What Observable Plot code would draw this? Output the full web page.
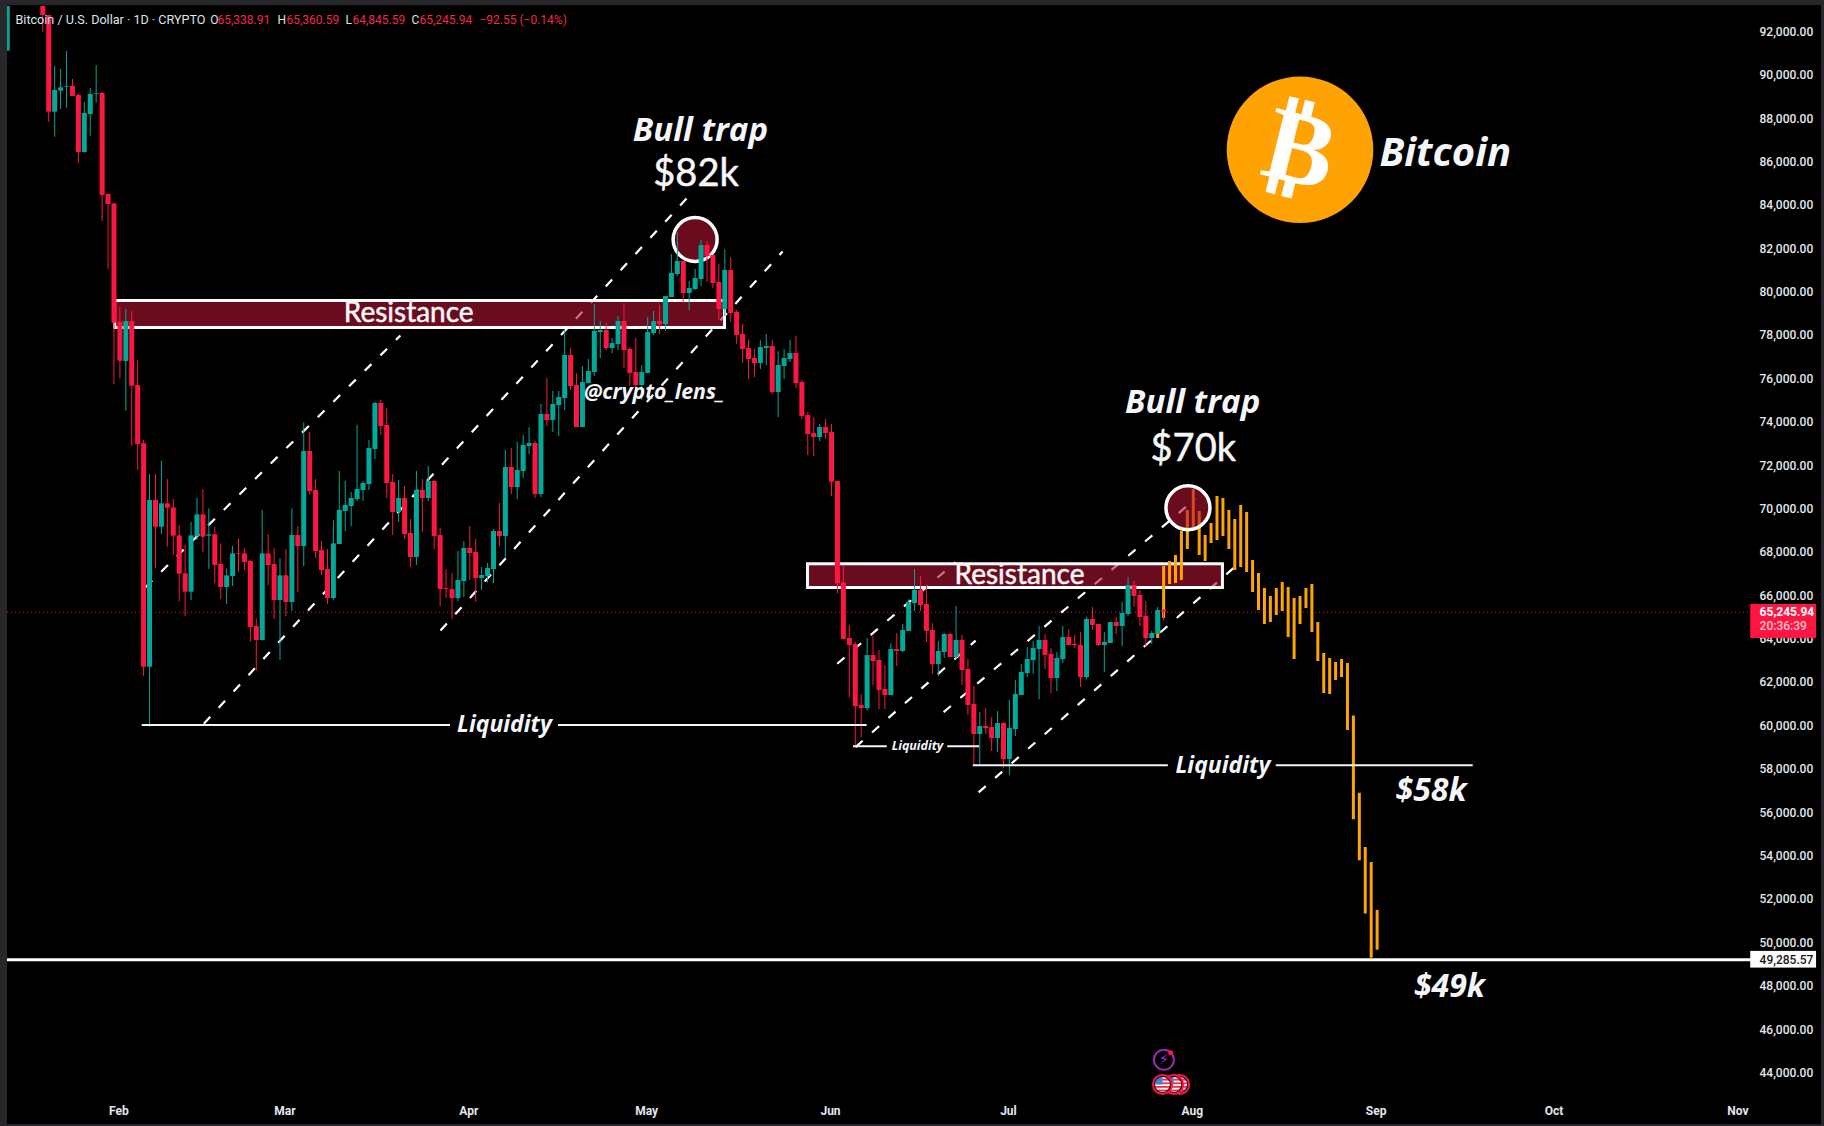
<!DOCTYPE html>
<html><head><meta charset="utf-8">
<script src="https://cdn.jsdelivr.net/npm/d3@7"></script>
<script src="https://cdn.jsdelivr.net/npm/@observablehq/plot@0.6"></script>
<style>
html,body{margin:0;padding:0;background:#000;overflow:hidden}
#wrap{position:relative;width:1824px;height:1126px}
#wrap svg{display:block}
#edge{position:absolute;left:0;top:0;width:1824px;height:1126px;box-sizing:border-box;border-top:5px solid #26262b;border-left:7px solid #26262b;border-bottom:2px solid #26262b;border-right:3px solid #26262b;pointer-events:none}
</style></head><body><div id="wrap"></div>
<script>
// Daily candles, first one on 19 Jan. r = falling, g = rising.
const firstDay = Date.UTC(2026, 0, 19);
const rising = "rrgggrrggg"+"rrrrgrrrgr"+"grrrrggrgr"+"rggrrrrgrr"+"grgrgrrrrg"+"gggggggrrr"+"grrgrgrrrr"+"ggrrgggrgr"+"gggrgrgggr"+"rggggrggrr"+"rgggrgggrg"+"ggrrrgrrrr"+"rggrgggrrr"+"rgrrrrrrrg"+"rrrgrgggrr"+"rggrgrrrgr"+"rgrggggggr"+"rggrrrgrrg"+"grggrrrggr";
const bodyTop = [93400,92756,89298,89421,89482,89482,89068,88238,89114,89160,
89160,84503,84072,78616,78647,78647,75696,73009,70396,70396,
70242,70242,70058,68767,67015,68767,69735,69735,68813,68813,
67445,66922,67937,67952,67937,67583,64586,67937,67937,67445,
66922,66922,68782,68782,72655,72655,70857,68090,67214,68398,
69935,70166,70488,70903,71180,72794,74869,74869,73854,71226,
70488,70488,68874,70857,70857,71272,71272,68782,66338,66292,
66707,68183,68183,67998,66938,67261,68967,68967,71918,71918,
71779,72932,73024,73024,74361,74361,74823,75145,77080,77080,
75697,75835,76342,78187,78233,78233,77633,78648,78648,77357,
76296,76296,78140,78648,78648,79800,80861,81414,81414,80169,
80630,82152,82152,81691,80446,80999,80999,79063,78048,77403,
76942,77449,77495,77495,76619,76942,77172,77172,75835,74313,
73483,73760,73760,73529,71273,66600,64033,63757,60944,63249,
63249,63019,61682,63526,63526,64402,65693,66247,66247,65601,
64402,63434,64218,64218,63941,63941,62604,60990,59976,59976,
59930,60114,60114,59883,61451,62465,63065,63572,63941,63941,
63295,63111,64079,64079,63757,63710,64909,64909,64679,63849,
64771,64771,65186,66477,66477,66016,65048,64264,65324,65338.91];
const bodyBottom = [92756,88299,88299,89267,89452,89021,86439,86439,88191,89129,
84457,84042,78570,76818,76803,75665,72978,62711,62711,69166,
69166,70043,68751,67000,66169,66169,68736,68705,68751,67399,
66385,66385,66892,67921,67537,64540,63941,63941,67399,65785,
65785,65693,65693,68275,68275,70811,68044,67168,65877,65877,
68367,69889,70119,70442,70857,71134,72748,73808,71180,69843,
69843,68828,67768,67768,70488,70488,68736,66292,66292,65877,
65877,66661,67952,66799,66799,66892,67214,68736,68736,70995,
70995,71733,72886,70673,70673,74085,74085,74776,75097,75651,
73760,73760,75789,76296,78140,77403,77403,77587,77310,76250,
75697,75697,76250,78094,78509,78509,79754,80815,79939,79939,
80123,80584,81645,80400,79201,79201,79017,78002,77357,76896,
76711,76711,77403,75374,75374,76573,76896,75789,74267,73437,
73299,73299,73483,71240,66554,63987,63710,60898,60805,60805,
62973,61635,61405,61405,63434,63434,64356,65647,65555,64356,
62834,62834,63388,63157,63157,62558,60944,59607,59607,59883,
59422,59422,58454,58454,59837,61405,62419,63019,63526,63249,
62189,62189,63065,63710,63710,62235,62235,64633,63710,63710,
63803,64587,64587,65140,65970,65002,64033,64033,64218,65245.94];
const wickHigh = [93600,92756,90405,90266,91096,89805,89144,88745,89390,90451,
89206,84533,84072,79308,79200,79108,76848,73163,71595,71595,
72194,71364,70442,69243,68321,69382,70488,70903,70012,69151,
68398,67245,68275,68628,68167,67629,64940,69935,68828,68167,
67706,68137,70012,69197,73977,73531,71364,68505,68137,69474,
71733,71272,70765,73854,71272,73163,74915,75007,74638,71595,
71318,71042,69520,71733,71364,71964,71318,69105,67214,67030,
68044,68505,69197,68598,67307,67491,69059,70258,72702,72794,
73070,73393,73762,73116,74823,76021,75422,75422,78279,77403,
76235,76573,76896,79432,78648,78555,77864,78878,79478,77449,
77864,76619,78832,79109,79385,79800,81737,82752,81414,80492,
81045,82383,82336,81691,81276,81968,81599,79155,78509,77772,
77357,77772,78048,77772,77264,77357,77772,77956,75927,74452,
74221,73898,74129,73898,71273,67399,64633,63849,61451,64033,
64125,63480,62788,63787,64264,64679,65816,67215,66892,66477,
64725,63895,64264,64264,65509,64172,63065,61820,60621,60806,
60391,60667,60160,61174,62097,62834,63618,63895,64587,64218,
63572,63388,64587,64448,64172,64310,65001,65463,64679,64310,
64771,65001,65693,66846,66661,66247,65739,64356,65463,65360.59];
const wickLow = [91988,87838,87146,88422,88483,89021,85947,86409,87192,88714,
83258,81045,75742,76000,74515,72901,71779,62281,59945,67245,
68828,68244,67860,65708,65047,65785,68552,67998,67214,66554,
65831,65600,66431,67092,67168,63864,62527,63910,66477,64909,
63018,65047,65278,66169,67353,70627,67722,66938,65600,65785,
68367,68967,69197,70350,70350,70857,72287,73393,70488,68782,
69382,68598,67307,67399,68920,70350,68137,65508,65877,64909,
65739,65923,66707,65693,66246,66584,66569,68275,67706,70673,
70442,71410,72517,70488,70534,73808,73531,73347,74544,75466,
73760,73760,75789,76112,76942,77310,77172,77310,76481,75651,
74928,75005,76250,78002,78048,78202,79754,80723,79478,79155,
80077,80262,80446,80154,78694,78878,78602,77587,76711,75973,
76066,76435,76619,75282,74221,75973,76757,75543,74129,72469,
72423,73114,73207,70579,66093,63987,61297,59053,59468,60683,
61866,60760,60760,61405,62742,63388,64356,65278,65278,63849,
62373,62281,63111,63157,63065,61866,60483,58223,58223,59607,
58823,58777,58039,57716,59515,61405,62235,62373,61221,62604,
61497,61589,62880,63710,63572,61774,62143,64402,63664,62466,
63803,64218,63664,65048,65463,64587,63664,63757,64218,64845.59];
// A candle cut by the left edge of the pane
const edgeCandleDay = -6, edgeCandleLow = 91110, edgeCandleHigh = 93500;

// Orange projection bars, first one on day 188
const ghostFirstDay = 188;
const ghostHigh = [65326,67354,67585,67862,68968,69937,70905,69890,68784,69337,70582,70490,69937,69522,70167,69844,67631,67032,66340,65971,66340,66617,66386,65879,65971,66340,66525,64772,63343,63112,62928,63066,62882,60461,56899,54401,53707,51502];
const ghostLow = [64035,64957,66524,66571,66709,68138,69153,67862,67585,68415,68553,68738,68138,67170,67308,67078,66156,65326,64680,64772,65095,65280,64081,63066,64680,65418,64311,62974,61499,61453,62098,62236,59792,55680,53784,51332,49297,49667];

// Annotations, in day number and price
const channelFromDay = [17.32,27.15,67.06,133.96,137.05,151.9,157.8];
const channelFromPrice = [66400,60100,64400,62870,59030,60640,56940];
const channelToDay = [60.3,108.55,124.75,153.9,157.3,194.4,201.1];
const channelToPrice = [78000,84320,81880,67550,63940,70480,67360];
const zoneFromDay = [12.2,129.04], zoneToDay = [115.04,199.0];
const zoneHigh = [79594,67456], zoneLow = [78350,66363];
const zoneLabelDay = [61.7,164.7], zoneLabelPrice = [79018,66963];
const trapDay = [110,193.1], trapPrice = [82430,70060];
const trapTitleDay = [110.9,193.9], trapTitlePrice = [87455,74915];
const trapValueDay = [110.15,194], trapValuePrice = [85472,72795], trapValue = ["$82k","$70k"];
const liquidityFrom = [16.76,86.96,136.7,152.6,156.9,208.0];
const liquidityTo = [68.75,139.0,142.4,157.96,189.8,241.2];
const liquidityPrice = [60050,60050,59070,59070,58190,58190];
const liquidityLabelDay = [77.85,147.5,199.0], liquidityLabelPrice = [60050,59070,58190], liquidityLabelSize = [23,12.5,23];
const targetPrice = 49225, targetLabel = "49,285.57";
const lastClose = 65245.94, lastLabel = "65,245.94", countdown = "20:36:39";
const priceTicks = d3.range(44000, 92001, 2000);
const monthTicks = ["2026-02-01","2026-03-01","2026-04-01","2026-05-01","2026-06-01","2026-07-01","2026-08-01","2026-09-01","2026-10-01","2026-11-01"].map(d => new Date(d));
const headerParts = [
 ["Bitcoin / U.S. Dollar · 1D · CRYPTO",15,"#dfe3ea",12.6],["O",209.7,"#dfe3ea",12],["65,338.91",217,"#f7254f",12],
 ["H",277,"#dfe3ea",12],["65,360.59",286,"#f7254f",12],["L",345,"#dfe3ea",12],["64,845.59",352,"#f7254f",12],
 ["C",411,"#dfe3ea",12],["65,245.94",419,"#f7254f",12],["−92.55 (−0.14%)",479,"#f7254f",12]];

const day = n => new Date(firstDay + n * 864e5);
const candles = bodyTop.map((t,i) => ({date:day(i),top:t,bottom:bodyBottom[i],high:wickHigh[i],low:wickLow[i],up:rising[i]==="g"}));
const ghosts = ghostHigh.map((h,i) => ({date:day(ghostFirstDay+i),high:h,low:ghostLow[i]}));
const channels = channelFromDay.map((d,i) => ({x1:day(d),y1:channelFromPrice[i],x2:day(channelToDay[i]),y2:channelToPrice[i]}));
const zones = zoneFromDay.map((d,i) => ({x1:day(d),x2:day(zoneToDay[i]),y1:zoneLow[i],y2:zoneHigh[i]}));
const liquidity = liquidityFrom.map((d,i) => ({x1:day(d),x2:day(liquidityTo[i]),y:liquidityPrice[i]}));
const at = (ds,ps,extra=[]) => ds.map((d,i) => ({x:day(d),y:ps[i],v:extra[i]}));

const RED="#ff1541", GREEN="#02a898", ORANGE="#ffa500", BI='"Open Sans"', REG='Lato';
const bold = {fontFamily:BI,fontWeight:700,fontStyle:"italic",fill:"#f4f6fa"};
const heavy = {fontFamily:REG,fill:"#f7f7f7",stroke:"#f7f7f7",strokeWidth:0.5};
const axisEnd = day(288.0), boxEnd = day(299.1), boxText = day(289.5);

const flagDefs = () => {
  const d = d3.create("svg:defs");
  const p = d.append("pattern").attr("id","usFlag").attr("width",1).attr("height",1).attr("patternContentUnits","objectBoundingBox");
  p.append("rect").attr("width",1).attr("height",1).attr("fill","#fff");
  [0.12,0.36,0.6,0.84].forEach(y => p.append("rect").attr("y",y).attr("width",1).attr("height",0.12).attr("fill","#ee2b45"));
  p.append("rect").attr("width",0.5).attr("height",0.5).attr("fill","#3f7fd6");
  return d.node();
};

const chart = Plot.plot({
  width:1824,height:1126,marginLeft:7,marginRight:72,marginTop:6,marginBottom:30,
  style:{background:"#000",fontFamily:"Roboto",overflow:"visible"},
  x:{type:"utc",domain:[day(-5.953),day(288.3)]},
  y:{domain:[42920,93171]},
  marks:[
    flagDefs,
    Plot.axisY(priceTicks,{anchor:"right",label:null,tickSize:0,tickPadding:7,tickFormat:d3.format(",.2f"),fill:"#e4e7ee",fontSize:12,fontWeight:500}),
    Plot.axisX(monthTicks,{anchor:"bottom",label:null,tickSize:0,tickPadding:10,tickFormat:d3.utcFormat("%b"),fill:"#e4e7ee",fontSize:12,fontWeight:700,dx:-1}),
    Plot.ruleY([lastClose],{stroke:RED,strokeWidth:1,strokeDasharray:"1,3",clip:true}),
    Plot.link(channels,{x1:"x1",y1:"y1",x2:"x2",y2:"y2",stroke:"#fff",strokeWidth:2.2,strokeDasharray:"9.5,12.5",clip:true,curve:"linear"}),
    Plot.rect(zones,{x1:"x1",x2:"x2",y1:"y1",y2:"y2",fill:"#b21232",fillOpacity:0.6,stroke:"#fff",strokeWidth:3}),
    Plot.ruleX(ghosts,{x:"date",y1:"low",y2:"high",stroke:ORANGE,strokeWidth:3,clip:true}),
    Plot.dot(at(trapDay,trapPrice),{x:"x",y:"y",r:22,fill:"#b21232",fillOpacity:0.6,stroke:"#fff",strokeWidth:3.5}),
    Plot.ruleX([day(edgeCandleDay)],{y1:edgeCandleLow,y2:edgeCandleHigh,stroke:GREEN,strokeWidth:5,clip:true}),
    Plot.ruleX(candles.filter(d=>d.up),{x:"date",y1:"low",y2:"high",stroke:GREEN,strokeWidth:1,clip:true}),
    Plot.ruleX(candles.filter(d=>!d.up),{x:"date",y1:"low",y2:"high",stroke:RED,strokeWidth:1,clip:true}),
    Plot.ruleX(candles.filter(d=>d.up),{x:"date",y1:"bottom",y2:"top",stroke:GREEN,strokeWidth:5,clip:true}),
    Plot.ruleX(candles.filter(d=>!d.up),{x:"date",y1:"bottom",y2:"top",stroke:RED,strokeWidth:5,clip:true}),
    Plot.ruleY(liquidity,{x1:"x1",x2:"x2",y:"y",stroke:"#f2f4f8",strokeWidth:2}),
    Plot.ruleY([targetPrice],{stroke:"#fff",strokeWidth:3}),
    // axis price boxes
    Plot.rect([0],{x1:axisEnd,x2:boxEnd,y1:targetPrice-385,y2:targetPrice+385,fill:"#fff"}),
    Plot.text([targetLabel],{x:boxText,y:targetPrice,text:d=>d,textAnchor:"start",fill:"#131722",fontSize:12,fontWeight:500}),
    Plot.rect([0],{x1:axisEnd,x2:boxEnd,y1:64035,y2:65603,fill:RED}),
    Plot.text([lastLabel],{x:boxText,y:lastClose,text:d=>d,textAnchor:"start",fill:"#fff",fontSize:12,fontWeight:700}),
    Plot.text([countdown],{x:boxText,y:64589,text:d=>d,textAnchor:"start",fill:"#ffc4d0",fontSize:12,fontWeight:500}),
    // zones, traps
    Plot.text(at(zoneLabelDay,zoneLabelPrice),{x:"x",y:"y",text:()=>"Resistance",fontSize:28,...heavy}),
    Plot.text(at(trapTitleDay,trapTitlePrice),{x:"x",y:"y",text:()=>"Bull trap",fontSize:33,...bold}),
    Plot.text(at(trapValueDay,trapValuePrice,trapValue),{x:"x",y:"y",text:"v",fontSize:38,...heavy}),
    ...liquidityLabelDay.map((d,i)=>Plot.text([{x:day(d),y:liquidityLabelPrice[i]}],{x:"x",y:"y",text:()=>"Liquidity",fontSize:liquidityLabelSize[i],...bold})),
    Plot.text([{x:day(103.1),y:75390}],{x:"x",y:"y",text:()=>"@crypto_lens_",fontSize:21.3,...bold}),
    Plot.text([{x:day(234.1),y:57005}],{x:"x",y:"y",text:()=>"$58k",fontSize:32,...bold}),
    Plot.text([{x:day(237.2),y:47993}],{x:"x",y:"y",text:()=>"$49k",fontSize:32,...bold}),
    // logo
    Plot.dot([{x:day(212),y:86565}],{x:"x",y:"y",r:73.3,fill:"#ffa204"}),
    Plot.text([{x:day(212),y:86565}],{x:"x",y:"y",text:()=>"₿",fontFamily:"DejaVu Sans",fontWeight:700,fontSize:104,rotate:14,fill:"#fff"}),
    Plot.text([{x:day(236.5),y:86430}],{x:"x",y:"y",text:()=>"Bitcoin",fontSize:40,...bold}),
    // events
    Plot.dot([{x:day(189.05),y:44613}],{x:"x",y:"y",r:10,fill:"none",stroke:"#9c27b0",strokeWidth:2}),
    Plot.text([{x:day(189.05),y:44613}],{x:"x",y:"y",text:()=>"⚡",fontFamily:"DejaVu Sans",fontSize:14,fill:"#a32bd6"}),
    Plot.dot([{x:day(190.2),y:44936}],{x:"x",y:"y",r:2.5,fill:RED}),
    ...[191.7,190.7,188.8].flatMap(d=>[
      Plot.dot([{x:day(d),y:43475}],{x:"x",y:"y",r:9.5,fill:"#10101a",stroke:RED,strokeWidth:2}),
      Plot.dot([{x:day(d),y:43475}],{x:"x",y:"y",r:7.5,fill:"url(#usFlag)"})
    ]),
    // header
    ...headerParts.map(([t,x,c,s])=>Plot.text([t],{frameAnchor:"top-left",dx:x-7,dy:9,text:d=>d,fill:c,fontSize:s,textAnchor:"start"}))
  ]
});
const wrap=document.getElementById("wrap");
wrap.append(chart);
const edge=document.createElement("div");edge.id="edge";wrap.append(edge);
</script></body></html>
